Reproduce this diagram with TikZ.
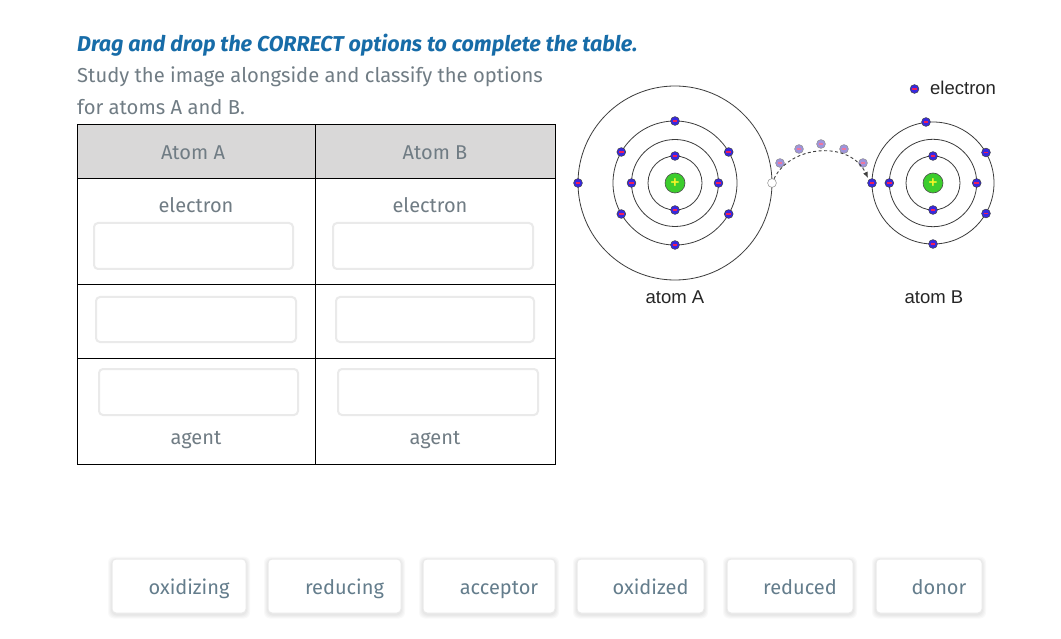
\documentclass[tikz,border=0pt]{standalone}
\usepackage{fontspec}
\setmainfont{Fira Sans}
\newfontfamily\helv{Liberation Sans}
\usetikzlibrary{arrows.meta}
\definecolor{titleblue}{RGB}{23,108,168}
\definecolor{txtgray}{RGB}{112,124,132}
\definecolor{btngray}{RGB}{100,125,140}
\definecolor{hdrgray}{RGB}{217,216,216}
\definecolor{boxgray}{RGB}{234,234,234}
\definecolor{eblue}{RGB}{55,40,225}
\definecolor{ered}{RGB}{235,30,90}
\definecolor{fblue}{RGB}{158,148,220}
\definecolor{fred}{RGB}{235,120,160}
\definecolor{nucgreen}{RGB}{60,205,45}
\definecolor{nucplus}{RGB}{245,245,40}
\definecolor{ringgray}{RGB}{60,60,60}
\tikzset{
  elec/.style={circle, draw=black!75, line width=0.5pt, fill=eblue, minimum size=8.8pt, inner sep=0pt,
    path picture={\draw[ered, line width=1.4pt] ([xshift=-2.4pt]path picture bounding box.center) -- ([xshift=2.4pt]path picture bounding box.center);}},
  felec/.style={circle, draw=black!45, line width=0.5pt, fill=fblue, minimum size=8.8pt, inner sep=0pt,
    path picture={\draw[fred, line width=1.4pt] ([xshift=-2.4pt]path picture bounding box.center) -- ([xshift=2.4pt]path picture bounding box.center);}},
  hole/.style={circle, draw=black!45, line width=0.5pt, fill=white, minimum size=8.8pt, inner sep=0pt},
  nucleus/.style={circle, draw=black!70, line width=0.6pt, fill=nucgreen, minimum size=20pt, inner sep=0pt,
    text=nucplus, font=\helv\bfseries\fontsize{15}{15}\selectfont},
  ring/.style={draw=ringgray, line width=0.8pt},
  tline/.style={draw=black, line width=1pt},
  dropbox/.style={draw=boxgray, line width=2pt, rounded corners=4pt, fill=white},
  chip/.style={draw=boxgray, line width=1pt, rounded corners=4pt, fill=white, minimum height=54pt, inner sep=0pt,
    text height=20pt, text depth=4pt,
    text=btngray, font=\fontsize{20}{22}\selectfont},
  chipshadow/.style={fill=black, fill opacity=0.025, rounded corners=6pt},
  celltext/.style={text=txtgray, font=\fontsize{20}{22}\selectfont, inner sep=0pt, anchor=base},
  atomlabel/.style={text=black!85, font=\helv\fontsize{18.5}{22}\selectfont, inner sep=0pt, anchor=base},
}
\newcommand{\chipshade}[4]{%
  \foreach \g in {1,2,3,4}{\fill[chipshadow] (#1-\g,#2-\g+1.5) rectangle (#3+\g,#4+\g+1.5);}}
\begin{document}
\begin{tikzpicture}[x=1pt,y=-1pt]
\useasboundingbox[fill=white] (0,0) rectangle (1061,639);

% ---- heading texts
\node[anchor=base west, inner sep=0pt, text=titleblue, font=\fontsize{21.5}{24}\selectfont\bfseries\itshape] (title) at (77,52)
  {Drag and drop the CORRECT options to complete the table.};
\node[anchor=base west, inner sep=0pt, text=txtgray, font=\fontsize{20.2}{24}\selectfont] (intro1) at (77,83)
  {Study the image alongside and classify the options};
\node[anchor=base west, inner sep=0pt, text=txtgray, font=\fontsize{20.2}{24}\selectfont] (intro2) at (77,115)
  {for atoms A and B.};

% ---- table
\fill[hdrgray] (77,125) rectangle (555,179);
\draw[tline] (77,125) rectangle (555,464);
\draw[tline] (77,179) -- (555,179);
\draw[tline] (77,285) -- (555,285);
\draw[tline] (77,358) -- (555,358);
\draw[tline] (315,125) -- (315,464);

\node[celltext] (hA) at (193,160) {Atom A};
\node[celltext] (hB) at (435,160) {Atom B};
\node[celltext] (eA) at (196,213) {electron};
\node[celltext] (eB) at (430,213) {electron};
\node[celltext] (gA) at (196,444) {agent};
\node[celltext] (gB) at (435,444) {agent};

\draw[dropbox] (94,223) rectangle (293,269);
\draw[dropbox] (333,223) rectangle (533,269);
\draw[dropbox] (96,297) rectangle (296,342);
\draw[dropbox] (336,297) rectangle (534,342);
\draw[dropbox] (99,369) rectangle (298,415);
\draw[dropbox] (338,369) rectangle (538,415);

% ---- option chips
\chipshade{112}{559}{246}{613}
\chipshade{268}{559}{401}{613}
\chipshade{423}{559}{555}{613}
\chipshade{577}{559}{704}{613}
\chipshade{727}{559}{853}{613}
\chipshade{876}{559}{982}{613}
\node[chip, minimum width=134pt] (c1) at (179,586) {\hspace*{20pt}oxidizing};
\node[chip, minimum width=133pt] (c2) at (334.5,586) {\hspace*{20pt}reducing};
\node[chip, minimum width=132pt] (c3) at (489,586) {\hspace*{20pt}acceptor};
\node[chip, minimum width=127pt] (c4) at (640.5,586) {\hspace*{20pt}oxidized};
\node[chip, minimum width=126pt] (c5) at (790,586) {\hspace*{20pt}reduced};
\node[chip, minimum width=106pt] (c6) at (929,586) {\hspace*{20pt}donor};

% ---- atom A
\coordinate (A) at (675,183);
\draw[ring] (A) circle[radius=27];
\draw[ring] (A) circle[radius=43.5];
\draw[ring] (A) circle[radius=62];
\draw[ring] (A) circle[radius=97];
\node[nucleus] (nA) at (A) {+};
\node[elec] (a1) at (675,156) {};
\node[elec] (a2) at (675,210) {};
\node[elec] (a3) at (631.5,183) {};
\node[elec] (a4) at (718.5,183) {};
\node[elec] (a5) at (675,121) {};
\node[elec] (a6) at (675,245) {};
\node[elec] (a7) at (621.3,152) {};
\node[elec] (a8) at (728.7,152) {};
\node[elec] (a9) at (621.3,214) {};
\node[elec] (a10) at (728.7,214) {};
\node[elec] (a11) at (578,183) {};
\node[hole] (h) at (772,183) {};
\node[atomlabel] (labA) at (675,304) {atom A};

% ---- moving electron
\node[felec] (f1) at (780,163) {};
\node[felec] (f2) at (799,149) {};
\node[felec] (f3) at (821,144) {};
\node[felec] (f4) at (844,149) {};
\node[felec] (f5) at (863,163) {};
\coordinate (tip) at (868,178);
\draw[black!75, line width=0.9pt, dash pattern=on 3pt off 2.5pt, -{Latex[length=6pt,width=5pt]}]
  (h) .. controls (790,145) and (850,140) .. (tip);

% ---- atom B
\coordinate (B) at (933,183);
\draw[ring] (B) circle[radius=27];
\draw[ring] (B) circle[radius=43.7];
\draw[ring] (B) circle[radius=61];
\node[nucleus] (nB) at (B) {+};
\node[elec] (b1) at (933,156) {};
\node[elec] (b2) at (933,210) {};
\node[elec] (b3) at (889.3,183) {};
\node[elec] (b4) at (976.7,183) {};
\node[elec] (b5) at (872,183) {};
\node[elec] (b6) at (926,122) {};
\node[elec] (b7) at (986,152.5) {};
\node[elec] (b8) at (986,213.5) {};
\node[elec] (b9) at (933,244) {};
\node[atomlabel] (labB) at (934,304) {atom B};

% ---- legend
\node[elec] (leg) at (914.5,89) {};
\node[atomlabel, anchor=base west] (legt) at (930,95) {electron};
\end{tikzpicture}
\end{document}
